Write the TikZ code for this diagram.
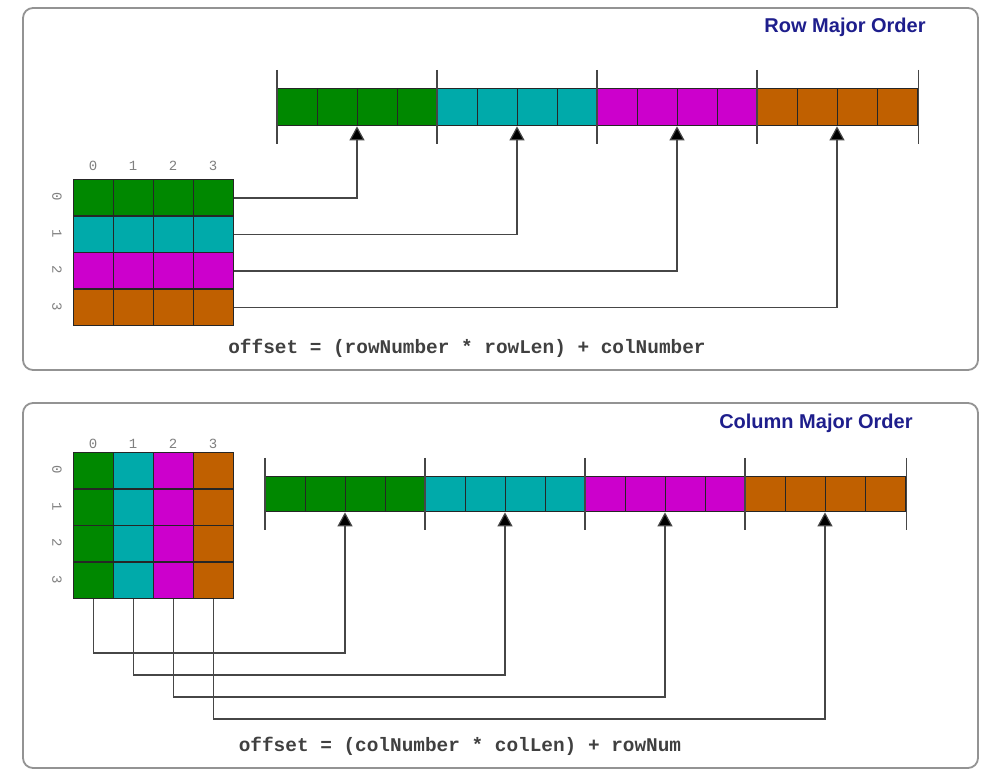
\documentclass[tikz,border=0pt]{standalone}
\usepackage{fontspec}
\setmainfont{Liberation Sans}
\setmonofont{Liberation Mono}
\usetikzlibrary{arrows.meta,positioning,calc}
\definecolor{cellGreen}{RGB}{0,136,0}
\definecolor{cellTeal}{RGB}{0,170,170}
\definecolor{cellMagenta}{RGB}{204,0,204}
\definecolor{cellBrown}{RGB}{192,96,0}
\definecolor{titleBlue}{RGB}{30,30,140}
\definecolor{lineGray}{RGB}{70,70,70}
\tikzset{
    cell/.style={rectangle,draw=black!85,line width=0.7pt,inner sep=0pt,minimum width=20pt,minimum height=18.25pt,anchor=north west},
    panel/.style={draw=gray!85,line width=0.9pt,rounded corners=5pt},
    tickline/.style={draw=lineGray,line width=0.7pt},
    link/.style={-{Triangle[length=7pt,width=7.5pt,fill=black]},draw=lineGray,line width=0.6pt},
    idx/.style={font=\ttfamily\fontsize{7}{8}\selectfont,text=gray,inner sep=0pt},
    heading/.style={font=\bfseries\fontsize{10}{12}\selectfont,text=titleBlue,inner sep=0pt,anchor=east},
    formula/.style={font=\ttfamily\bfseries\fontsize{9.7}{12}\selectfont,text=black!75,inner sep=0pt}
}

\begin{document}
\begin{tikzpicture}[x=0.5pt,y=-0.5pt]
  \useasboundingbox (0,0) rectangle (998,780);

  % Two panels
  \draw[panel] (23,8) rectangle (978,370);
  \draw[panel] (23,403) rectangle (978,768);

  \node[heading] (titleA) at (926,27) {Row Major Order};
  \node[heading] (titleB) at (913,423) {Column Major Order};

  % Matrices and linear memory, one colour per row / column
  \foreach \c [count=\i from 0] in {cellGreen,cellTeal,cellMagenta,cellBrown} {
    \foreach \j in {0,...,3} {
      \pgfmathtruncatemacro\k{4*\i+\j}
      \node[cell,fill=\c] (mA-\i-\j) at ({73+40*\j},{179+36.5*\i}) {};
      \node[cell,fill=\c] (mB-\j-\i) at ({73+40*\i},{452+36.5*\j}) {};
      \node[cell,fill=\c,minimum height=18.5pt] (bA-\k) at ({277+40*\k},88) {};
      \node[cell,fill=\c,minimum height=17.5pt] (bB-\k) at ({265+40*\k},476) {};
    }
  }

  % Index labels
  \foreach \j in {0,...,3} {
    \node[idx] (cA-\j) at ({93+40*\j},166) {\j};
    \node[idx,rotate=-90] (rA-\j) at (57,{197+36.5*\j}) {\j};
    \node[idx] (cB-\j) at ({93+40*\j},444) {\j};
    \node[idx,rotate=-90] (rB-\j) at (57,{470+36.5*\j}) {\j};
  }

  % Group ticks on the memory strips
  \foreach \k in {0,4,8,12} {
    \draw[tickline] ([yshift=9pt]bA-\k.north west) -- ([yshift=-9pt]bA-\k.south west);
    \draw[tickline] ([yshift=9pt]bB-\k.north west) -- ([yshift=-9pt]bB-\k.south west);
  }
  \draw[tickline] ([yshift=9pt]bA-15.north east) -- ([yshift=-9pt]bA-15.south east);
  \draw[tickline] ([yshift=9pt]bB-15.north east) -- ([yshift=-9pt]bB-15.south east);

  % Row major connectors
  \foreach \i in {0,...,3} {
    \pgfmathtruncatemacro\k{4*\i+2}
    \draw[link] (mA-\i-3.east) -| (bA-\k.south west);
  }

  % Column major connectors
  \foreach \j in {0,...,3} {
    \pgfmathtruncatemacro\k{4*\j+2}
    \coordinate (lvl-\j) at (0,{653+22*\j});
    \draw[link] (mB-3-\j.south) -- (mB-3-\j.south |- lvl-\j) -| (bB-\k.south west);
  }

  % Offset formulas
  \node[formula] (fA) at (467,348) {offset = (rowNumber * rowLen) + colNumber};
  \node[formula] (fB) at (460,746) {offset = (colNumber * colLen) + rowNum};
\end{tikzpicture}
\end{document}
